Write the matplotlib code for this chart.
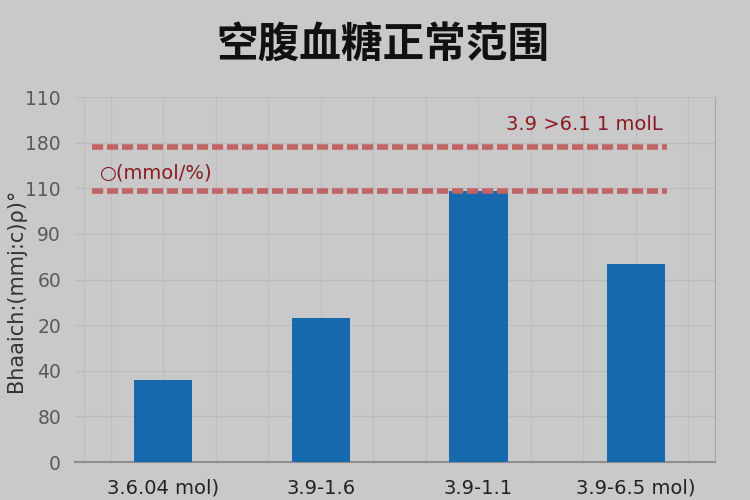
import matplotlib
matplotlib.use("Agg")
import matplotlib.pyplot as plt
import numpy as np

plt.rcParams['font.family'] = ['Noto Sans CJK SC', 'DejaVu Sans']

title = "空腹血糖正常范围"
categories = ["3.6.04 mol)", "3.9-1.6", "3.9-1.1", "3.9-6.5 mol)"]
values = [36, 63, 119, 87]
ytick_values = [0, 20, 40, 60, 80, 100, 120, 140, 160]
ytick_labels = ["0", "80", "40", "20", "60", "90", "110", "180", "110"]
ref_upper = 138
ref_lower = 119
ref_upper_label = "3.9 >6.1 1 molL"
ref_lower_label = "○(mmol/%)"
ylabel = "Bhaaich:(mmj:c)ρ)°"

bg = "#c9c9c9"
fig = plt.figure(figsize=(7.5, 5), dpi=100, facecolor=bg)
ax = fig.add_axes([0.1, 0.076, 0.853, 0.730], facecolor=bg)

x = np.arange(len(categories))
ax.bar(x, values, width=0.37, color="#1769ad", zorder=3)

ax.set_xlim(-0.56, 3.5)
ax.set_ylim(0, 160)

# grid
for g in list(np.arange(-1, 11) / 3.0) + [-0.5]:
    ax.axvline(g, color="#bebebe", lw=0.9, zorder=1)
for t in ytick_values[1:]:
    ax.axhline(t, color="#bcbcbc", lw=0.9, zorder=1)

ax.set_yticks(ytick_values)
ax.set_yticklabels(ytick_labels, fontsize=13.5, color="#5a5a5a", family=['DejaVu Sans'])
ax.set_xticks(x)
ax.set_xticklabels(categories, fontsize=14, color="#222222", family=['DejaVu Sans'])
ax.tick_params(axis='both', length=0)
ax.tick_params(axis='y', pad=10)
ax.tick_params(axis='x', pad=12)

for s in ["left", "top"]:
    ax.spines[s].set_visible(False)
ax.spines["bottom"].set_color("#8f8f8f")
ax.spines["bottom"].set_linewidth(1.5)
ax.spines["right"].set_color("#a8a8a8")

# reference lines
ax.plot([-0.45, 3.2], [ref_upper, ref_upper], ls=(0, (2.0, 0.7)), color="#c06464", lw=4.0, zorder=4)
ax.plot([-0.45, 3.2], [ref_lower, ref_lower], ls=(0, (2.0, 0.7)), color="#c06464", lw=4.0, zorder=4)
ax.text(3.17, 148, ref_upper_label, ha="right", va="center", fontsize=14,
        color="#8b1a22", family=['DejaVu Sans'])
ax.text(-0.4, 126.5, ref_lower_label, ha="left", va="center", fontsize=14,
        color="#8b1a22", family=['DejaVu Sans'])

fig.text(0.51, 0.91, title, ha="center", va="center", fontsize=30, fontweight="bold", color="#111111")
fig.text(0.022, 0.42, ylabel, rotation=90, ha="center", va="center", fontsize=15,
         color="#333333", family=['DejaVu Sans'])

fig.savefig("out.png", dpi=100, facecolor=bg)
